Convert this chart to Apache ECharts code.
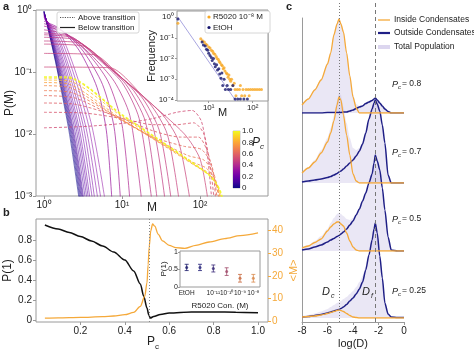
<!DOCTYPE html>
<html><head><meta charset="utf-8">
<script src="https://cdn.jsdelivr.net/npm/echarts@6/dist/echarts.min.js"></script>
<style>html,body{margin:0;padding:0;background:#fff}#c{width:474px;height:356px}</style>
</head><body><div id="c"></div>
<script>
// ===== Panel a: P(M) vs M, values as [log10 M, log10 P] =====
const solidPc = [0.00,0.02,0.04,0.06,0.08,0.10,0.12,0.14,0.16,0.18,0.20,0.22,0.24,0.26,0.28,0.30,0.33,0.36,0.39,0.42,0.44,0.45,0.46,0.47,0.48,0.49,0.50];
const solidCurves = [
  [[0,-0.02],[0.15,-0.85],[0.32,-1.95],[0.45,-3.05]],
  [[0,-0.02],[0.15,-0.83],[0.33,-1.95],[0.46,-3.05]],
  [[0,-0.022],[0.15,-0.8],[0.34,-1.95],[0.47,-3.05]],
  [[0,-0.027],[0.16,-0.82],[0.35,-1.95],[0.48,-3.05]],
  [[0,-0.032],[0.16,-0.78],[0.36,-1.95],[0.49,-3.05]],
  [[0,-0.039],[0.17,-0.8],[0.37,-1.95],[0.5,-3.05]],
  [[0,-0.046],[0.17,-0.76],[0.38,-1.95],[0.51,-3.05]],
  [[0,-0.053],[0.18,-0.77],[0.39,-1.9],[0.53,-3.05]],
  [[0,-0.06],[0.18,-0.72],[0.41,-1.9],[0.55,-3.05]],
  [[0,-0.07],[0.19,-0.7],[0.43,-1.9],[0.57,-3.05]],
  [[0,-0.078],[0.2,-0.68],[0.45,-1.9],[0.59,-3.05]],
  [[0,-0.089],[0.2,-0.62],[0.47,-1.85],[0.62,-3.05]],
  [[0,-0.102],[0.21,-0.58],[0.5,-1.85],[0.65,-3.05]],
  [[0,-0.114],[0.22,-0.55],[0.53,-1.85],[0.69,-3.05]],
  [[0,-0.128],[0.23,-0.5],[0.56,-1.8],[0.73,-3.05]],
  [[0,-0.143],[0.24,-0.45],[0.6,-1.8],[0.78,-3.05]],
  [[0,-0.18],[0.2,-0.3],[0.45,-0.65],[0.68,-1.25],[0.8,-1.95],[0.87,-3.05]],
  [[0,-0.22],[0.22,-0.32],[0.5,-0.66],[0.75,-1.2],[0.9,-1.9],[0.98,-3.05]],
  [[0,-0.26],[0.25,-0.35],[0.55,-0.68],[0.82,-1.15],[1.0,-1.85],[1.1,-3.05]],
  [[0,-0.32],[0.3,-0.4],[0.6,-0.72],[0.9,-1.15],[1.1,-1.7],[1.25,-3.05]],
  [[0,-0.37],[0.35,-0.43],[0.67,-0.76],[1.0,-1.17],[1.22,-1.75],[1.38,-3.05]],
  [[0,-0.4],[0.37,-0.45],[0.7,-0.78],[1.05,-1.2],[1.3,-1.8],[1.45,-3.05]],
  [[0,-0.44],[0.4,-0.48],[0.8,-0.88],[1.15,-1.3],[1.4,-1.9],[1.55,-3.05]],
  [[0,-0.5],[0.45,-0.53],[0.85,-0.94],[1.25,-1.4],[1.48,-1.95],[1.63,-3.05]],
  [[0,-0.55],[0.5,-0.58],[0.9,-0.99],[1.35,-1.5],[1.58,-2.0],[1.73,-3.05]],
  [[0,-0.7],[0.64,-0.72],[1.0,-1.1],[1.5,-1.66],[1.72,-2.1],[1.87,-3.05]],
  [[0,-0.92],[0.84,-0.93],[1.3,-1.43],[1.8,-2.0],[2.0,-2.4],[2.1,-3.05]]
];
const dashedPc = [0.52,0.55,0.58,0.62,0.67,0.72,0.78,0.85,0.92,1.0];
const dashedCurves = [
  [[0,-1.9],[0.5,-1.88],[1.0,-1.83],[1.4,-1.75],[1.7,-1.65],[1.9,-1.62],[2.02,-1.8],[2.1,-2.4],[2.15,-3.05]],
  [[0,-1.65],[0.5,-1.66],[1.0,-1.75],[1.4,-1.85],[1.7,-1.85],[1.92,-1.82],[2.05,-2.0],[2.14,-2.6],[2.18,-3.05]],
  [[0,-1.5],[0.4,-1.52],[0.9,-1.7],[1.4,-1.95],[1.75,-2.05],[1.98,-2.05],[2.1,-2.3],[2.18,-2.75],[2.2,-3.05]],
  [[0,-1.38],[0.4,-1.42],[0.9,-1.72],[1.4,-2.05],[1.8,-2.2],[2.02,-2.25],[2.15,-2.5],[2.22,-3.05]],
  [[0,-1.3],[0.35,-1.33],[0.9,-1.7],[1.45,-2.1],[1.85,-2.35],[2.05,-2.42],[2.18,-2.65],[2.24,-3.05]],
  [[0,-1.22],[0.33,-1.25],[0.9,-1.7],[1.5,-2.15],[1.9,-2.45],[2.08,-2.55],[2.2,-2.75],[2.25,-3.05]],
  [[0,-1.17],[0.3,-1.19],[0.95,-1.72],[1.55,-2.2],[1.95,-2.52],[2.1,-2.62],[2.22,-2.82],[2.26,-3.05]],
  [[0,-1.13],[0.3,-1.14],[1.0,-1.72],[1.6,-2.22],[2.0,-2.56],[2.14,-2.68],[2.23,-2.86],[2.27,-3.05]],
  [[0,-1.1],[0.3,-1.1],[1.0,-1.7],[1.6,-2.2],[2.05,-2.6],[2.17,-2.73],[2.25,-2.9],[2.28,-3.05]],
  [[0,-1.08],[0.29,-1.08],[1.0,-1.69],[1.6,-2.2],[2.09,-2.63],[2.2,-2.78],[2.26,-2.92],[2.29,-3.05]]
];
const aXTicks = [0,1,2];
const aYTicks = [0,-1,-2,-3];
const cbTicks = [0,0.2,0.4,0.6,0.8,1.0];

// ===== Inset of a: Frequency vs M, [log10 M, log10 F] =====
const etohPts = [[0.30,-0.1],[0.85,-1.2],[0.88,-1.35],[0.92,-1.4],[0.95,-1.55],[0.98,-1.6],[1.0,-1.75],[1.03,-1.85],[1.06,-1.95],[1.08,-2.1],[1.11,-2.0],[1.13,-2.25],[1.15,-2.4],[1.18,-2.3],[1.2,-2.55],[1.23,-2.5],[1.25,-2.75],[1.28,-2.95],[1.3,-2.7],[1.32,-3.3],[1.35,-3.0],[1.38,-3.5],[1.42,-3.3],[1.45,-3.5],[1.5,-3.5],[1.55,-3.3],[1.6,-3.95],[1.66,-3.95],[1.72,-3.95],[1.8,-3.95],[1.88,-3.95]];
const r5020Pts = [[0.30,-0.3],[0.82,-1.05],[0.86,-1.15],[0.9,-1.2],[0.93,-1.3],[0.96,-1.35],[1.0,-1.45],[1.03,-1.5],[1.06,-1.6],[1.09,-1.65],[1.11,-1.75],[1.14,-1.8],[1.17,-1.9],[1.19,-2.0],[1.22,-2.05],[1.24,-2.15],[1.26,-2.2],[1.29,-2.3],[1.31,-2.35],[1.33,-2.5],[1.35,-2.45],[1.37,-2.6],[1.4,-2.7],[1.42,-2.75],[1.44,-2.9],[1.46,-2.8],[1.48,-3.0],[1.5,-3.1],[1.52,-3.0],[1.55,-3.3],[1.58,-3.2],[1.6,-3.5],[1.65,-3.5],[1.7,-3.5],[1.72,-3.3],[1.78,-3.5],[1.85,-3.5],[1.9,-3.5],[1.95,-3.5],[2.0,-3.5],[2.05,-3.5],[2.1,-3.5],[2.15,-3.5],[2.2,-3.5],[1.62,-3.8],[1.75,-3.8],[1.82,-3.8],[1.92,-3.8]];
const fitLine = [[0.3,0.0],[1.62,-4.05]];
const insetAXTicks = [1,2];
const insetAYTicks = [0,-1,-2,-3,-4];

// ===== Panel b =====
const pcP1 = [0.04,0.1,0.15,0.2,0.25,0.3,0.35,0.4,0.44,0.47,0.485,0.5,0.508,0.515,0.53,0.56,0.6,0.7,0.8,0.9,1.0];
const p1Vals = [0.95,0.91,0.875,0.835,0.79,0.74,0.68,0.6,0.49,0.36,0.24,0.12,0.05,0.02,0.035,0.055,0.07,0.08,0.08,0.078,0.073];
const pcMean = [0.04,0.1,0.2,0.3,0.35,0.4,0.44,0.47,0.49,0.5,0.505,0.51,0.517,0.525,0.535,0.55,0.57,0.6,0.63,0.67,0.72,0.78,0.85,0.92,1.0];
const meanM = [1.3,1.4,1.6,1.9,2.2,2.8,3.8,6.5,11,17,25,33,40,43,42,38.5,35.5,33.5,32.5,32.2,33.5,35,36.5,37.8,39];
const bXTicks = [0.2,0.4,0.6,0.8,1.0];
const bYTicks = [0,0.2,0.4,0.6,0.8];
const bY2Ticks = [0,10,20,30,40];
const transitionPc = 0.507;

// ===== Inset of b =====
const concLabels = ['EtOH','10⁻¹²','10⁻¹¹','10⁻¹⁰','10⁻⁹','10⁻⁸'];
const p1Conc = [0.56,0.56,0.53,0.44,0.25,0.25];
const p1Err = [0.09,0.09,0.10,0.11,0.11,0.11];
const concColors = ['#1b1b6b','#26237a','#3a2a78','#a04a6a','#c8683c','#d98a4c'];

// ===== Panel c (heights of each ridge, arbitrary units) =====
const logD = [-8,-7.5,-7,-6.5,-6,-5.75,-5.5,-5.25,-5.1,-4.95,-4.75,-4.5,-4.25,-4,-3.75,-3.5,-3.25,-3,-2.75,-2.5,-2.35,-2.25,-2.1,-1.9,-1.7,-1.5,-1.25,-1,-0.5,0];
const ridgeLabels = ['0.8','0.7','0.5','0.25'];
const inside08  = [8,14,23,33,49,60,78,89,94,89,81,60,37,16,5,0,0,0,0,0,0,0,0,0,0,0,0,0,0,0];
const outside08 = [0,0,0,0,0.5,0.5,0.5,0.5,0.5,0.5,1,1,2,3,4.5,6,7,9.5,11,12.5,14,15,13,10,7,4,1.5,0,0,0];
const total08   = [9,15,24,34,50,61,79,90,95,90,82,61,39,19,9,7,8,10,11.5,13,14.5,15,13,10,7,4,1.5,0,0,0];
const inside07  = [10,15,21,30,41,50,62,78,86,83,68,48,28,9,2,0,0,0,0,0,0,0,0,0,0,0,0,0,0,0];
const outside07 = [1,2,3,4,5.5,6.5,8,9.5,11,12,14,17,20,23,27,32,39,50,64,74,80,83,79,72,58,40,8,0,0,0];
const total07   = [11,16,23,33,45,55,67,82,90,88,76,60,45,35,33,35,40,50,64,74,80,83,79,72,58,40,8,0.5,0,0];
const inside05  = [3,5,8.5,12,20,24,27,29,29,27,25,18,10,4,1,0,0,0,0,0,0,0,0,0,0,0,0,0,0,0];
const outside05 = [1,2,4,6,9,11,12.5,14.5,15.5,17,19,22,26,30,36,42,50,58,68,77,88,96,90,81,63,41,14,1,0,0];
const total05   = [4,6,10,15,22,28,33,37,38,37,35,32,31,33,37,42,49,57,66,74,82,88,84,76,60,40,14,1,0,0];
const inside025  = [1,1.5,2,3,4.5,5.5,6.5,7.5,8,7.5,6.5,4.5,2.5,1,0.5,0,0,0,0,0,0,0,0,0,0,0,0,0,0,0];
const outside025 = [1,1.5,2.5,3.5,5,6,7,8,8.5,9.5,11,13.5,17,20,24,29,36,48,63,78,89,95,85,62,40,15,4,1,0.5,0.5];
const total025   = [2,3,4.5,6.5,9,11,13,15,16,17,19,21,24,27,31,36,42,52,64,76,85,90,86,64,42,17,4,1,0,0];
const Dc = -5.1, Df = -2.27;

// ===== styling helpers =====
const FONT = 'Liberation Sans, Arial, sans-serif';
const TXT = '#222', GRID_C = '#9a9a9a';
const ORANGE = '#F5A93A', NAVY = '#1f1f86', LAV = 'rgba(196,186,228,0.5)';
const SUP = {'0':'⁰','1':'¹','2':'²','3':'³','4':'⁴','5':'⁵','6':'⁶','7':'⁷','8':'⁸','9':'⁹','-':'⁻'};
const sup = n => String(Math.round(n)).split('').map(c => SUP[c]).join('');
const plasmaStops = ['#0d0887','#41049d','#6a00a8','#8f0da4','#b12a90','#cc4778','#e16462','#f2844b','#fca636','#fcce25','#f0f921'];
const hex = h => [1,3,5].map(i => parseInt(h.substr(i,2),16));
function plasma(t){
  t = Math.max(0, Math.min(1, t));
  const f = t*10, i = Math.min(9, Math.floor(f)), u = f - i;
  const a = hex(plasmaStops[i]), b = hex(plasmaStops[i+1]);
  return 'rgb(' + a.map((v,k) => Math.round(v + (b[k]-v)*u)).join(',') + ')';
}

const chart = echarts.init(document.getElementById('c'), null, {renderer:'canvas'});

const baseAxis = (extra) => Object.assign({
  axisLine:{show:false, onZero:false}, splitLine:{show:false},
  axisTick:{show:false}, axisLabel:{show:false}, nameMoveOverlap:false
}, extra);

const ridgeBaselines = [113,183,251,318];
const ridgeData = [[inside08,outside08,total08],[inside07,outside07,total07],[inside05,outside05,total05],[inside025,outside025,total025]];

const grids = [
  {left:36, top:10, width:232, height:186, show:true, borderColor:GRID_C, borderWidth:1, backgroundColor:'transparent'},
  {left:177, top:11, width:91, height:90, show:true, borderColor:GRID_C, borderWidth:1, backgroundColor:'#fff', z:10},
  {left:233, top:131, width:7, height:57, show:true, borderColor:'#888', borderWidth:0.5, backgroundColor:'transparent', z:10},
  {left:36, top:219, width:232, height:103, show:true, borderColor:GRID_C, borderWidth:1, backgroundColor:'transparent'},
  {left:180, top:251, width:80, height:36, show:true, borderColor:GRID_C, borderWidth:1, backgroundColor:'#fff', z:10},
  {left:302, top:18, width:102, height:304},
  {left:302, top:3, width:102, height:319}
];
ridgeBaselines.forEach(b => grids.push({left:302, top:b-100, width:102, height:100}));

const xAxes = [
  baseAxis({gridIndex:0, type:'value', min:-0.1026, max:2.872,
    axisTick:{show:true, length:3, customValues:aXTicks, lineStyle:{color:GRID_C}},
    axisLabel:{show:true, customValues:aXTicks, formatter:v=>'10'+sup(v), fontSize:10, color:TXT, margin:4},
    name:'M', nameLocation:'middle', nameGap:6, nameTextStyle:{fontSize:12, color:TXT, verticalAlign:'top'}}),
  baseAxis({gridIndex:1, type:'value', min:0.28, max:2.348, z:11,
    axisTick:{show:true, length:2, customValues:insetAXTicks, lineStyle:{color:GRID_C}},
    axisLabel:{show:true, customValues:insetAXTicks, formatter:v=>'10'+sup(v), fontSize:8, color:TXT, margin:3},
    name:'M', nameLocation:'middle', nameGap:6, nameTextStyle:{fontSize:11, color:TXT, verticalAlign:'top'}}),
  baseAxis({gridIndex:2, type:'category', data:['cb']}),
  baseAxis({gridIndex:3, type:'value', min:0, max:1.045,
    axisTick:{show:true, length:3, customValues:bXTicks, lineStyle:{color:GRID_C}},
    axisLabel:{show:true, customValues:bXTicks, formatter:v=>v.toFixed(1), fontSize:10, color:TXT, margin:4}}),
  baseAxis({gridIndex:4, type:'value', min:0, max:6, z:11,
    axisLabel:{show:true, showMinLabel:true, showMaxLabel:true, hideOverlap:false,
      customValues:concLabels.map((_, i) => i + 0.5), formatter:v=>concLabels[Math.floor(v)], fontSize:6.5, color:TXT, margin:3},
    name:'R5020 Con. (M)', nameLocation:'middle', nameGap:15, nameTextStyle:{fontSize:8, color:TXT, verticalAlign:'top'}}),
  baseAxis({gridIndex:5, type:'value', min:-8, max:0, interval:2,
    axisLine:{show:true, onZero:false, lineStyle:{color:GRID_C}},
    axisTick:{show:true, length:3, lineStyle:{color:GRID_C}},
    axisLabel:{show:true, fontSize:10, color:TXT, margin:4},
    name:'log(D)', nameLocation:'middle', nameGap:16, nameTextStyle:{fontSize:11, color:TXT, verticalAlign:'top'}}),
  baseAxis({gridIndex:6, type:'value', min:-8, max:0})
];
ridgeBaselines.forEach((b,i) => xAxes.push(baseAxis({gridIndex:7+i, type:'value', min:-8, max:0})));

const yAxes = [
  baseAxis({gridIndex:0, type:'value', min:-3, max:0,
    axisTick:{show:true, length:3, customValues:aYTicks, lineStyle:{color:GRID_C}},
    axisLabel:{show:true, customValues:aYTicks, formatter:v=>'10'+sup(v), fontSize:10, color:TXT, margin:4},
    name:'P(M)', nameLocation:'middle', nameGap:20, nameTextStyle:{fontSize:12, color:TXT}}),
  baseAxis({gridIndex:1, type:'value', min:-4.05, max:0.29, z:11,
    axisTick:{show:true, length:2, customValues:insetAYTicks, lineStyle:{color:GRID_C}},
    axisLabel:{show:true, customValues:insetAYTicks, formatter:v=>'10'+sup(v), fontSize:8, color:TXT, margin:3},
    name:'Frequency', nameLocation:'middle', nameGap:20, nameTextStyle:{fontSize:11, color:TXT}}),
  baseAxis({gridIndex:2, type:'value', min:0, max:1, position:'right', z:11,
    axisLabel:{show:true, customValues:cbTicks, formatter:v=>v===0?'0':v.toFixed(1), fontSize:8, color:TXT, margin:2}}),
  baseAxis({gridIndex:3, type:'value', min:-0.02, max:1.01,
    axisTick:{show:true, length:3, customValues:bYTicks, lineStyle:{color:GRID_C}},
    axisLabel:{show:true, customValues:bYTicks, formatter:v=>v===0?'0':v.toFixed(1), fontSize:10, color:TXT, margin:4},
    name:'P(1)', nameLocation:'middle', nameGap:22, nameTextStyle:{fontSize:12, color:TXT}}),
  baseAxis({gridIndex:3, type:'value', min:-0.45, max:45.2, position:'right',
    axisTick:{show:true, length:3, customValues:bY2Ticks, lineStyle:{color:ORANGE}},
    axisLabel:{show:true, customValues:bY2Ticks, fontSize:10, color:ORANGE, margin:4},
    name:'<M>', nameLocation:'middle', nameGap:20, nameRotate:90, nameTextStyle:{fontSize:11, color:ORANGE}}),
  baseAxis({gridIndex:4, type:'value', min:0, max:1.03, z:11,
    axisTick:{show:true, length:2, customValues:[0,0.5,1], lineStyle:{color:GRID_C}},
    axisLabel:{show:true, customValues:[0,0.5,1], fontSize:7, color:TXT, margin:2},
    name:'P(1)', nameLocation:'middle', nameGap:12, nameTextStyle:{fontSize:8, color:TXT}}),
  baseAxis({gridIndex:5, type:'value', min:0, max:1, axisLine:{show:true, onZero:false, lineStyle:{color:GRID_C}}}),
  baseAxis({gridIndex:6, type:'value', min:0, max:1})
];
ridgeBaselines.forEach((b,i) => yAxes.push(baseAxis({gridIndex:7+i, type:'value', min:0, max:100})));

const series = [];
solidCurves.forEach((d,i) => series.push({type:'line', xAxisIndex:0, yAxisIndex:0, data:d, symbol:'none',
  smooth:0.25, silent:true, z:2,
  lineStyle:{color:plasma(solidPc[i]), width:0.9, opacity:solidPc[i] < 0.31 ? 0.6 : 0.8}}));
dashedCurves.forEach((d,i) => series.push({type:'line', xAxisIndex:0, yAxisIndex:0, data:d, symbol:'none',
  smooth:0.25, silent:true, z:3,
  lineStyle:{color:plasma(dashedPc[i]), width:dashedPc[i]===1?1.6:0.9, type:[3,2], opacity:0.9}}));
series.push({type:'line', xAxisIndex:1, yAxisIndex:1, data:fitLine, symbol:'none', z:12, silent:true,
  lineStyle:{color:'#a9a6e0', width:1}});
series.push({type:'scatter', xAxisIndex:1, yAxisIndex:1, data:r5020Pts, symbolSize:3, z:13, silent:true,
  itemStyle:{color:'#F7A823'}});
series.push({type:'scatter', xAxisIndex:1, yAxisIndex:1, data:etohPts, symbolSize:3, z:14, silent:true,
  itemStyle:{color:'#16166e'}});
series.push({type:'bar', xAxisIndex:2, yAxisIndex:2, data:[1], barWidth:'100%', silent:true, z:11,
  itemStyle:{color:new echarts.graphic.LinearGradient(0,1,0,0, plasmaStops.map((c,i)=>({offset:i/10, color:c})))}});
series.push({type:'line', xAxisIndex:3, yAxisIndex:3, data:pcP1.map((x,i)=>[x,p1Vals[i]]), symbol:'none',
  smooth:0.3, smoothMonotone:'x', silent:true, z:3, lineStyle:{color:'#111', width:1.5},
  markLine:{silent:true, symbol:['none','none'], label:{show:false},
    lineStyle:{color:'#888', type:[1,2], width:1}, data:[{xAxis:transitionPc}]}});
series.push({type:'line', xAxisIndex:3, yAxisIndex:4, data:pcMean.map((x,i)=>[x,meanM[i]]), symbol:'none',
  smooth:0.3, smoothMonotone:'x', silent:true, z:3, lineStyle:{color:ORANGE, width:1.3}});
series.push({type:'custom', xAxisIndex:4, yAxisIndex:5, z:12, silent:true,
  data:p1Conc.map((v,i)=>[i+0.5, v-p1Err[i], v+p1Err[i]]),
  renderItem:(params, api) => {
    const x = api.value(0), p1 = api.coord([x, api.value(1)]), p2 = api.coord([x, api.value(2)]);
    const col = concColors[params.dataIndex], w = 2;
    const st = {stroke:col, lineWidth:0.8};
    return {type:'group', children:[
      {type:'line', shape:{x1:p1[0],y1:p1[1],x2:p2[0],y2:p2[1]}, style:st},
      {type:'line', shape:{x1:p1[0]-w,y1:p1[1],x2:p1[0]+w,y2:p1[1]}, style:st},
      {type:'line', shape:{x1:p2[0]-w,y1:p2[1],x2:p2[0]+w,y2:p2[1]}, style:st}]};
  }
});
series.push({type:'line', xAxisIndex:4, yAxisIndex:5, data:[], silent:true,
  markLine:{silent:true, symbol:['none','none'], label:{show:false}, lineStyle:{color:'#999', type:'solid', width:0.8}, data:[{xAxis:4}]}});
series.push({type:'scatter', xAxisIndex:4, yAxisIndex:5, z:13, silent:true, symbolSize:3,
  data:p1Conc.map((v,i)=>({value:[i+0.5, v], itemStyle:{color:concColors[i]}}))});
series.push({type:'line', xAxisIndex:6, yAxisIndex:7, data:[], silent:true,
  markLine:{silent:true, symbol:['none','none'], label:{show:false}, data:[
    {xAxis:Dc, lineStyle:{color:'#777', type:[1,2], width:1}},
    {xAxis:Df, lineStyle:{color:'#777', type:[4,3], width:1}}]}});
ridgeData.forEach((r,i) => {
  const [ins, outs, tot] = r;
  const xi = 7+i, yi = 8+i;
  series.push({type:'line', xAxisIndex:xi, yAxisIndex:yi, data:logD.map((x,k)=>[x,tot[k]]), symbol:'none', silent:true,
    smooth:0.25, smoothMonotone:'x', lineStyle:{width:0, opacity:0}, areaStyle:{color:LAV}, z:1});
  series.push({type:'line', xAxisIndex:xi, yAxisIndex:yi, data:logD.map((x,k)=>[x,outs[k]]), symbol:'none', silent:true,
    smooth:0.25, smoothMonotone:'x', lineStyle:{color:NAVY, width:1.5}, z:3});
  series.push({type:'line', xAxisIndex:xi, yAxisIndex:yi, data:logD.map((x,k)=>[x,ins[k]]), symbol:'none', silent:true,
    smooth:0.25, smoothMonotone:'x', lineStyle:{color:ORANGE, width:1.3}, z:4});
});

const T = (x,y,text,font,fill,align,va,z) => ({type:'text', x, y, z:z||100, silent:true,
  style:{text, font:font, fill:fill||TXT, align:align||'left', verticalAlign:va||'middle'}});
const F = (s, w) => (w ? w + ' ' : '') + s + 'px ' + FONT;
const graphic = [
  T(3,7,'a',F(11,'bold')), T(3,213,'b',F(11,'bold')), T(286,7,'c',F(11,'bold')),
  {type:'rect', z:99, silent:true, shape:{x:57,y:12,width:82,height:21,r:2}, style:{fill:'rgba(255,255,255,0.85)', stroke:'#ccc', lineWidth:0.8}},
  {type:'line', z:100, silent:true, shape:{x1:60,y1:17.5,x2:75,y2:17.5}, style:{stroke:'#555', lineWidth:1, lineDash:[1.2,1.2]}},
  T(78,17.5,'Above transition',F(8)),
  {type:'line', z:100, silent:true, shape:{x1:60,y1:27.5,x2:75,y2:27.5}, style:{stroke:'#222', lineWidth:1.2}},
  T(78,27.5,'Below transition',F(8)),
  {type:'rect', z:99, silent:true, shape:{x:205,y:11,width:65,height:22,r:2}, style:{fill:'#fff', stroke:'#ccc', lineWidth:0.8}},
  {type:'circle', z:100, silent:true, shape:{cx:209,cy:17,r:1.6}, style:{fill:'#F7A823'}},
  T(213,17,'R5020 10⁻⁸ M',F(8)),
  {type:'circle', z:100, silent:true, shape:{cx:209,cy:27.5,r:1.6}, style:{fill:'#16166e'}},
  T(213,27.5,'EtOH',F(8)),
  T(252,143,'P',F(12,'italic')), T(260,147,'c',F(8,'italic')),
  T(147,342,'P',F(12)), T(155,347,'c',F(8)),
  {type:'line', z:100, silent:true, shape:{x1:378,y1:20,x2:390,y2:20}, style:{stroke:ORANGE, lineWidth:1.3}},
  T(394,20,'Inside Condensates',F(8.5)),
  {type:'line', z:100, silent:true, shape:{x1:378,y1:33,x2:390,y2:33}, style:{stroke:NAVY, lineWidth:2.2}},
  T(394,33,'Outside Condensates',F(8.5)),
  {type:'rect', z:100, silent:true, shape:{x:378,y:45,width:12,height:4}, style:{fill:'rgba(196,186,228,0.6)'}},
  T(394,47,'Total Population',F(8.5)),
  T(322,292,'D',F(11,'italic')), T(331,296,'c',F(7,'italic')),
  T(362,292,'D',F(11,'italic')), T(371,296,'f',F(7,'italic'))
];
const pcLabelY = [84,152,219,291];
ridgeLabels.forEach((lab,i) => {
  graphic.push(T(392,pcLabelY[i],'P',F(9,'italic')));
  graphic.push(T(398,pcLabelY[i]+3,'c',F(6,'italic')));
  graphic.push(T(402,pcLabelY[i],'= '+lab,F(8.5)));
});

chart.setOption({
  animation:false,
  backgroundColor:'#fff',
  textStyle:{fontFamily:FONT},
  grid:grids, xAxis:xAxes, yAxis:yAxes, series, graphic
});
</script></body></html>
